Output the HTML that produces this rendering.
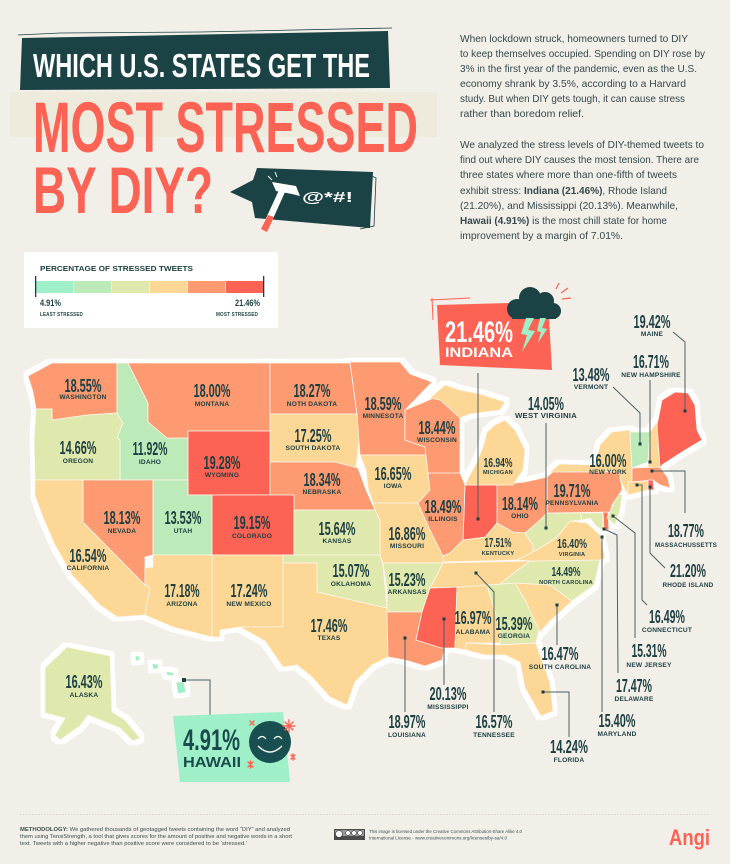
<!DOCTYPE html>
<html><head><meta charset="utf-8">
<style>
html,body{margin:0;padding:0;background:#f2eee8;}
svg{display:block}
.p{font-family:"Liberation Sans Narrow","Liberation Sans",sans-serif;font-weight:700;font-size:18px;fill:#1c3e41}
.ps{font-size:12.5px}
.n{font-family:"Liberation Sans",sans-serif;font-weight:700;font-size:6.6px;fill:#1c3e41;letter-spacing:.2px}
.nb{font-size:7.6px}
.t{font-family:"Liberation Sans",sans-serif;font-size:10.4px;fill:#34494b}
.ln{fill:none;stroke:#4a6163;stroke-width:1}
.m{font-family:"Liberation Sans",sans-serif;font-size:5.4px;fill:#3b4f51}
</style></head>
<body>
<svg width="730" height="864" viewBox="0 0 730 864" xmlns="http://www.w3.org/2000/svg" xmlns:xlink="http://www.w3.org/1999/xlink">
<defs>
<filter id="halo" x="-10%" y="-10%" width="120%" height="120%">
<feMorphology in="SourceAlpha" operator="dilate" radius="4" result="d"/>
<feFlood flood-color="#ffffff"/>
<feComposite in2="d" operator="in"/>
</filter>
</defs>
<rect width="730" height="864" fill="#f2eee8"/>

<!-- TITLE -->
<polygon points="22,38 388,31 390,88 20,90" fill="#1b4245"/>
<polyline points="18,35 60,33 200,32 392,28" fill="none" stroke="#1b4245" stroke-width="0.8"/>
<rect x="10" y="92" width="427" height="45" fill="#efebdc"/>
<text x="33" y="77" font-family="'Liberation Sans Narrow','Liberation Sans',sans-serif" font-weight="700" font-size="33" fill="#ffffff" textLength="337" lengthAdjust="spacingAndGlyphs">WHICH U.S. STATES GET THE</text>
<text x="33" y="152" font-family="'Liberation Sans Narrow','Liberation Sans',sans-serif" font-weight="700" font-size="71" fill="#fd6354" textLength="385" lengthAdjust="spacingAndGlyphs">MOST STRESSED</text>
<text x="33" y="213" font-family="'Liberation Sans Narrow','Liberation Sans',sans-serif" font-weight="700" font-size="66" fill="#fd6354" textLength="180" lengthAdjust="spacingAndGlyphs">BY DIY?</text>
<!-- speech bubble -->
<polygon points="230,192 253,180 257,168 373,172 370,228 255,218 252,202" fill="#1b4245"/>
<polyline points="372,176 376,178 374,226 360,229" fill="none" stroke="#1b4245" stroke-width="0.8"/>
<polygon points="279,190 285,192 268,230 262,227" fill="#ffffff"/>
<polygon points="268,215 274,217 267,232 261,229" fill="#fd6354"/>
<polygon points="272,182 296,186 300,196 292,194 276,191" fill="#ffffff"/>
<line x1="268" y1="176" x2="272" y2="180" stroke="#fff" stroke-width="1"/>
<line x1="275" y1="172" x2="277" y2="177" stroke="#fff" stroke-width="1"/>
<text x="302" y="202" font-family="'Liberation Sans',sans-serif" font-weight="700" font-size="15" fill="#ffffff" textLength="51" lengthAdjust="spacingAndGlyphs">@*#!</text>

<!-- PARAGRAPHS -->
<text class="t" x="460" y="42" textLength="228" lengthAdjust="spacingAndGlyphs">When lockdown struck, homeowners turned to DIY</text>
<text class="t" x="460" y="57" textLength="245" lengthAdjust="spacingAndGlyphs">to keep themselves occupied. Spending on DIY rose by</text>
<text class="t" x="460" y="72" textLength="237" lengthAdjust="spacingAndGlyphs">3% in the first year of the pandemic, even as the U.S.</text>
<text class="t" x="460" y="87" textLength="226" lengthAdjust="spacingAndGlyphs">economy shrank by 3.5%, according to a Harvard</text>
<text class="t" x="460" y="102" textLength="225" lengthAdjust="spacingAndGlyphs">study. But when DIY gets tough, it can cause stress</text>
<text class="t" x="460" y="117" textLength="124" lengthAdjust="spacingAndGlyphs">rather than boredom relief.</text>
<text class="t" x="460" y="148" textLength="244" lengthAdjust="spacingAndGlyphs">We analyzed the stress levels of DIY-themed tweets to</text>
<text class="t" x="460" y="163" textLength="239" lengthAdjust="spacingAndGlyphs">find out where DIY causes the most tension. There are</text>
<text class="t" x="460" y="178" textLength="217" lengthAdjust="spacingAndGlyphs">three states where more than one-fifth of tweets</text>
<text class="t" x="460" y="194" textLength="207" lengthAdjust="spacingAndGlyphs">exhibit stress: <tspan font-weight="700">Indiana (21.46%)</tspan>, Rhode Island</text>
<text class="t" x="460" y="209" textLength="218" lengthAdjust="spacingAndGlyphs">(21.20%), and Mississippi (20.13%). Meanwhile,</text>
<text class="t" x="460" y="224" textLength="207" lengthAdjust="spacingAndGlyphs"><tspan font-weight="700">Hawaii (4.91%)</tspan> is the most chill state for home</text>
<text class="t" x="460" y="239" textLength="163" lengthAdjust="spacingAndGlyphs">improvement by a margin of 7.01%.</text>

<!-- LEGEND -->
<rect x="24" y="252" width="254" height="76" fill="#ffffff"/>
<text x="40" y="271" font-family="'Liberation Sans',sans-serif" font-weight="700" font-size="7.6" fill="#1c3e41" textLength="153" lengthAdjust="spacingAndGlyphs">PERCENTAGE OF STRESSED TWEETS</text>
<rect x="36" y="281" width="37.5" height="12" fill="#9ff0c9"/>
<rect x="74" y="281" width="37.5" height="12" fill="#bdeab9"/>
<rect x="112" y="281" width="37.5" height="12" fill="#dfe9ad"/>
<rect x="150" y="281" width="37.5" height="12" fill="#fdd796"/>
<rect x="188" y="281" width="37.5" height="12" fill="#fd9a71"/>
<rect x="226" y="281" width="37" height="12" fill="#fd6354"/>
<rect x="35" y="276" width="1.3" height="21" fill="#1c3e41"/>
<rect x="263" y="276" width="1.3" height="21" fill="#1c3e41"/>
<text x="40" y="306" class="p" style="font-size:9px" textLength="21" lengthAdjust="spacingAndGlyphs">4.91%</text>
<text x="40" y="316" class="n" style="font-size:5.4px" textLength="43" lengthAdjust="spacingAndGlyphs">LEAST STRESSED</text>
<text x="260" y="306" class="p" style="font-size:9px" text-anchor="end" textLength="25" lengthAdjust="spacingAndGlyphs">21.46%</text>
<text x="258" y="316" class="n" style="font-size:5.4px" text-anchor="end" textLength="42" lengthAdjust="spacingAndGlyphs">MOST STRESSED</text>

<!-- MAP HALO -->
<use href="#map" xlink:href="#map" filter="url(#halo)"/>

<!-- MAP -->
<g id="map" stroke="#fff6ec" stroke-width="0.8" stroke-linejoin="round">
<polygon fill="#fd9a71" points="28,376 52,363 117,363 117,413 87,415 52,420 52,409 36,409 33,392"/>
<polygon fill="#bdeab9" points="117,363 128,363 148,403 148,422 167,438 188,438 188,480 120,480 120,440 117,438 123,423 117,413"/>
<polygon fill="#fd9a71" points="128,363 270,363 270,431 188,431 188,438 167,438 148,422 148,403"/>
<polygon fill="#fd9a71" points="270,363 350,363 357,414 270,414"/>
<polygon fill="#fdd796" points="270,414 357,414 359,440 356,468 335,462 270,462"/>
<polygon fill="#fd6354" points="188,431 270,431 270,495 188,495"/>
<polygon fill="#fd9a71" points="270,462 335,462 358,468 366,490 375,510 294,510 294,495 270,495"/>
<polygon fill="#dfe9ad" points="36,409 52,409 52,420 87,415 117,413 123,423 117,438 120,440 120,480 35,480 34,440"/>
<polygon fill="#fdd796" points="35,480 83,480 83,522 145,585 150,587 145,615 117,617 100,605 72,575 55,545 42,515 35,495"/>
<polygon fill="#fd9a71" points="83,480 153,480 153,555 145,557 145,585 83,522"/>
<polygon fill="#bdeab9" points="153,480 188,480 188,495 212,495 212,555 153,555"/>
<polygon fill="#fd6354" points="212,495 294,495 294,555 212,555"/>
<polygon fill="#fdd796" points="153,555 212,555 212,637 173,627 145,615 150,587 145,585 145,568 153,567"/>
<polygon fill="#fdd796" points="212,555 283,555 283,627 240,627 220,630 220,637 212,637"/>
<polygon fill="#dfe9ad" points="294,510 375,510 380,520 380,555 294,555"/>
<polygon fill="#dfe9ad" points="283,555 380,555 383,565 387,608 360,602 317,592 317,563 283,563"/>
<polygon fill="#fdd796" points="240,627 283,627 283,563 317,563 317,592 360,602 387,608 388,657 372,665 355,682 347,705 330,697 312,677 297,665 283,667 265,641"/>
<polygon fill="#fd9a71" points="350,362 400,362 410,374 432,382 405,410 405,440 425,447 428,455 360,455 357,414"/>
<polygon fill="#fdd796" points="360,455 428,455 431,475 430,490 418,503 373,503 368,488 366,470"/>
<polygon fill="#fdd796" points="373,503 418,503 430,530 448,555 443,563 383,563 380,555 380,520 375,510"/>
<polygon fill="#dfe9ad" points="383,563 443,563 430,588 422,612 387,612 387,590"/>
<polygon fill="#fd9a71" points="387,612 422,612 416,640 445,646 442,660 425,666 405,660 388,657"/>
<polygon fill="#fd6354" points="430,588 457,587 455,648 441,648 416,640 422,612"/>
<polygon fill="#fdd796" points="457,587 487,585 500,628 500,643 466,643 466,650 455,648"/>
<polygon fill="#dfe9ad" points="487,585 515,583 545,610 540,625 536,643 500,645 500,628"/>
<polygon fill="#fdd796" points="466,650 466,643 500,645 536,643 540,655 550,683 553,711 541,716 525,688 520,662 505,655 485,655"/>
<polygon fill="#fdd796" points="515,583 550,585 572,601 550,621 540,632 525,600"/>
<polygon fill="#dfe9ad" points="500,584 515,572 530,561 600,560 594,585 572,601 550,585 515,583"/>
<polygon fill="#fdd796" points="443,563 530,561 515,572 500,584 487,585 457,587 430,588 437,575"/>
<polygon fill="#fdd796" points="443,562 443,556 450,553 463,540 485,537 497,523 513,532 525,533 533,545 533,552 517,560"/>
<polygon fill="#fdd796" points="517,560 533,552 545,545 557,537 570,521 587,523 600,535 605,558 600,560 530,561"/>
<polygon fill="#dfe9ad" points="525,533 540,520 547,513 575,513 585,505 590,512 582,520 570,521 557,537 545,545 533,552 533,545"/>
<polygon fill="#dfe9ad" points="580,513 603,513 603,530 596,526 590,518 582,520"/>
<polygon fill="#fd7a5f" points="603,512 608,512 609,530 604,530"/>
<polygon fill="#dfe9ad" points="612,492 622,495 620,510 615,525 607,518 613,505"/>
<polygon fill="#fd9a71" points="547,477 555,470 620,472 622,490 612,505 610,512 547,513"/>
<polygon fill="#fd9a71" points="497,485 525,482 547,477 547,513 540,520 525,533 513,532 497,523"/>
<polygon fill="#fd6354" points="465,485 497,485 497,523 485,537 463,540"/>
<polygon fill="#fd9a71" points="428,473 460,473 465,485 463,540 450,553 443,556 430,530 418,503 430,490"/>
<polygon fill="#fd9a71" points="405,410 422,403 440,395 460,418 460,473 428,473 425,447 405,440"/>
<polygon fill="#fdd796" points="465,485 513,485 523,470 525,450 515,430 505,420 495,425 487,432 483,447 477,462 470,475"/>
<polygon fill="#fdd796" points="430,398 445,385 460,390 480,394 505,402 500,410 470,414 460,418 440,400"/>
<polygon fill="#fdd796" points="550,472 560,464 595,465 600,445 612,432 630,430 632,468 632,482 628,495 620,480 620,472"/>
<polygon fill="#bdeab9" points="630,432 650,432 648,462 632,468"/>
<polygon fill="#fdd796" points="650,432 657,422 660,468 648,468 648,462"/>
<polygon fill="#fd6354" points="657,425 662,400 675,392 688,393 695,405 697,430 702,440 682,452 662,465 660,468"/>
<polygon fill="#fd9a71" points="632,468 660,467 668,478 670,488 660,485 653,480 632,482"/>
<polygon fill="#fd6354" points="648,480 653,480 654,490 648,490"/>
<polygon fill="#fdd796" points="628,482 648,481 648,490 628,495"/>
<polygon fill="#dfe9ad" points="45,668 67,647 110,656 112,712 125,720 140,738 133,741 120,728 88,715 80,726 60,740 55,735 65,718 45,713 45,690"/>
<polygon fill="#9ff0c9" points="135,656 139,656 140,660 136,661"/>
<polygon fill="#9ff0c9" points="152,664 158,664 158,669 153,669"/>
<polygon fill="#9ff0c9" points="166,671 174,673 173,676 167,675"/>
<polygon fill="#9ff0c9" points="176,682 184,682 186,692 178,694"/>
</g>

<!-- CONNECTOR LINES -->
<g class="ln">
<polyline points="673,332 685,342 685,411"/>
<polyline points="650,380 650,462"/>
<polyline points="613,387 640,413 640,444"/>
<polyline points="546,423 546,528"/>
<polyline points="478,373 478,519"/>
<polyline points="652,471 685,471 685,513"/>
<polyline points="650,487 650,553 665,568"/>
<polyline points="637,485 642,485 642,600 647,605"/>
<polyline points="613,516 635,533 635,638"/>
<polyline points="604,529 617,535 618,673"/>
<polyline points="602,537 602,712"/>
<polyline points="557,605 557,645"/>
<polyline points="543,692 569,692 569,737"/>
<polyline points="476,573 494,592 494,712"/>
<polyline points="444,619 444,685"/>
<polyline points="405,638 405,712"/>
<polyline points="184,680 210,680 210,716"/>
</g>
<g fill="#1c3e41">
<rect x="683.5" y="409.5" width="3" height="3"/>
<rect x="648.5" y="460.5" width="3" height="3"/>
<rect x="638.5" y="442.5" width="3" height="3"/>
<rect x="544.5" y="526.5" width="3" height="3"/>
<rect x="476.5" y="517.5" width="3" height="3"/>
<rect x="650.5" y="469.5" width="3" height="3"/>
<rect x="648.5" y="485.5" width="3" height="3"/>
<rect x="635.5" y="483.5" width="3" height="3"/>
<rect x="611.5" y="514.5" width="3" height="3"/>
<rect x="602.5" y="527.5" width="3" height="3"/>
<rect x="600.5" y="535.5" width="3" height="3"/>
<rect x="555.5" y="603.5" width="3" height="3"/>
<rect x="541.5" y="690.5" width="3" height="3"/>
<rect x="474.5" y="571.5" width="3" height="3"/>
<rect x="442.5" y="617.5" width="3" height="3"/>
<rect x="403.5" y="636.5" width="3" height="3"/>
<rect x="182" y="678" width="4" height="4"/>
</g>

<!-- STATE LABELS -->
<g text-anchor="middle">
<text class="p" x="83" y="392" textLength="37" lengthAdjust="spacingAndGlyphs">18.55%</text><text class="n" x="83" y="399">WASHINGTON</text>
<text class="p" x="212" y="397" textLength="37" lengthAdjust="spacingAndGlyphs">18.00%</text><text class="n" x="212" y="406">MONTANA</text>
<text class="p" x="312" y="397" textLength="37" lengthAdjust="spacingAndGlyphs">18.27%</text><text class="n" x="312" y="406">NOTH DAKOTA</text>
<text class="p" x="313" y="442" textLength="37" lengthAdjust="spacingAndGlyphs">17.25%</text><text class="n" x="313" y="450">SOUTH DAKOTA</text>
<text class="p" x="78" y="454" textLength="37" lengthAdjust="spacingAndGlyphs">14.66%</text><text class="n" x="78" y="463">OREGON</text>
<text class="p" x="150" y="455" textLength="35" lengthAdjust="spacingAndGlyphs">11.92%</text><text class="n" x="150" y="464">IDAHO</text>
<text class="p" x="222" y="469" textLength="37" lengthAdjust="spacingAndGlyphs">19.28%</text><text class="n" x="222" y="477">WYOMING</text>
<text class="p" x="322" y="486" textLength="37" lengthAdjust="spacingAndGlyphs">18.34%</text><text class="n" x="322" y="494">NEBRASKA</text>
<text class="p" x="122" y="524" textLength="37" lengthAdjust="spacingAndGlyphs">18.13%</text><text class="n" x="122" y="533">NEVADA</text>
<text class="p" x="183" y="524" textLength="37" lengthAdjust="spacingAndGlyphs">13.53%</text><text class="n" x="183" y="533">UTAH</text>
<text class="p" x="252" y="529" textLength="37" lengthAdjust="spacingAndGlyphs">19.15%</text><text class="n" x="252" y="538">COLORADO</text>
<text class="p" x="337" y="535" textLength="37" lengthAdjust="spacingAndGlyphs">15.64%</text><text class="n" x="337" y="543">KANSAS</text>
<text class="p" x="88" y="562" textLength="37" lengthAdjust="spacingAndGlyphs">16.54%</text><text class="n" x="88" y="570">CALIFORNIA</text>
<text class="p" x="182" y="597" textLength="35" lengthAdjust="spacingAndGlyphs">17.18%</text><text class="n" x="182" y="606">ARIZONA</text>
<text class="p" x="249" y="597" textLength="37" lengthAdjust="spacingAndGlyphs">17.24%</text><text class="n" x="249" y="606">NEW MEXICO</text>
<text class="p" x="351" y="577" textLength="37" lengthAdjust="spacingAndGlyphs">15.07%</text><text class="n" x="351" y="586">OKLAHOMA</text>
<text class="p" x="329" y="632" textLength="37" lengthAdjust="spacingAndGlyphs">17.46%</text><text class="n" x="329" y="640">TEXAS</text>
<text class="p" x="84" y="688" textLength="37" lengthAdjust="spacingAndGlyphs">16.43%</text><text class="n" x="84" y="697">ALASKA</text>
<text class="p" x="383" y="410" textLength="37" lengthAdjust="spacingAndGlyphs">18.59%</text><text class="n" x="383" y="418">MINNESOTA</text>
<text class="p" x="437" y="434" textLength="37" lengthAdjust="spacingAndGlyphs">18.44%</text><text class="n" x="437" y="442">WISCONSIN</text>
<text class="p ps" x="498" y="467" textLength="29" lengthAdjust="spacingAndGlyphs">16.94%</text><text class="n" x="498" y="474" style="font-size:5.6px">MICHIGAN</text>
<text class="p" x="393" y="480" textLength="37" lengthAdjust="spacingAndGlyphs">16.65%</text><text class="n" x="393" y="488">IOWA</text>
<text class="p" x="443" y="513" textLength="37" lengthAdjust="spacingAndGlyphs">18.49%</text><text class="n" x="443" y="521">ILLINOIS</text>
<text class="p" x="520" y="510" textLength="36" lengthAdjust="spacingAndGlyphs">18.14%</text><text class="n" x="520" y="518">OHIO</text>
<text class="p" x="407" y="540" textLength="37" lengthAdjust="spacingAndGlyphs">16.86%</text><text class="n" x="407" y="548">MISSOURI</text>
<text class="p ps" x="498" y="547" textLength="27" lengthAdjust="spacingAndGlyphs">17.51%</text><text class="n" x="498" y="555" style="font-size:5.6px">KENTUCKY</text>
<text class="p ps" x="572" y="548" textLength="30" lengthAdjust="spacingAndGlyphs">16.40%</text><text class="n" x="572" y="556" style="font-size:5.6px">VIRGINIA</text>
<text class="p ps" x="566" y="576" textLength="29" lengthAdjust="spacingAndGlyphs">14.49%</text><text class="n" x="566" y="584" style="font-size:5.6px">NORTH CAROLINA</text>
<text class="p" x="407" y="586" textLength="37" lengthAdjust="spacingAndGlyphs">15.23%</text><text class="n" x="407" y="594">ARKANSAS</text>
<text class="p" x="473" y="624" textLength="37" lengthAdjust="spacingAndGlyphs">16.97%</text><text class="n" x="473" y="634">ALABAMA</text>
<text class="p" x="514" y="630" textLength="37" lengthAdjust="spacingAndGlyphs">15.39%</text><text class="n" x="514" y="638">GEORGIA</text>
<text class="p" x="608" y="467" textLength="37" lengthAdjust="spacingAndGlyphs">16.00%</text><text class="n" x="608" y="474">NEW YORK</text>
<text class="p" x="572" y="497" textLength="37" lengthAdjust="spacingAndGlyphs">19.71%</text><text class="n" x="572" y="505">PENNSYLVANIA</text>
<text class="p" x="652" y="328" textLength="37" lengthAdjust="spacingAndGlyphs">19.42%</text><text class="n" x="652" y="336">MAINE</text>
<text class="p" x="651" y="368" textLength="36" lengthAdjust="spacingAndGlyphs">16.71%</text><text class="n" x="651" y="377">NEW HAMPSHIRE</text>
<text class="p" x="591" y="381" textLength="37" lengthAdjust="spacingAndGlyphs">13.48%</text><text class="n" x="591" y="389">VERMONT</text>
<text class="p" x="546" y="410" textLength="36" lengthAdjust="spacingAndGlyphs">14.05%</text><text class="n nb" x="546" y="418" textLength="62" lengthAdjust="spacingAndGlyphs">WEST VIRGINIA</text>
<text class="p" x="686" y="537" textLength="36" lengthAdjust="spacingAndGlyphs">18.77%</text><text class="n" x="686" y="547" textLength="62" lengthAdjust="spacingAndGlyphs">MASSACHUSSETTS</text>
<text class="p" x="688" y="577" textLength="36" lengthAdjust="spacingAndGlyphs">21.20%</text><text class="n" x="688" y="587" textLength="51" lengthAdjust="spacingAndGlyphs">RHODE ISLAND</text>
<text class="p" x="667" y="623" textLength="36" lengthAdjust="spacingAndGlyphs">16.49%</text><text class="n" x="667" y="632">CONNECTICUT</text>
<text class="p" x="649" y="657" textLength="35" lengthAdjust="spacingAndGlyphs">15.31%</text><text class="n" x="649" y="667">NEW JERSEY</text>
<text class="p" x="634" y="692" textLength="36" lengthAdjust="spacingAndGlyphs">17.47%</text><text class="n" x="634" y="701">DELAWARE</text>
<text class="p" x="617" y="727" textLength="37" lengthAdjust="spacingAndGlyphs">15.40%</text><text class="n" x="617" y="736">MARYLAND</text>
<text class="p" x="569" y="753" textLength="38" lengthAdjust="spacingAndGlyphs">14.24%</text><text class="n" x="569" y="762">FLORIDA</text>
<text class="p" x="560" y="660" textLength="37" lengthAdjust="spacingAndGlyphs">16.47%</text><text class="n" x="560" y="669">SOUTH CAROLINA</text>
<text class="p" x="494" y="728" textLength="37" lengthAdjust="spacingAndGlyphs">16.57%</text><text class="n" x="494" y="737">TENNESSEE</text>
<text class="p" x="448" y="700" textLength="37" lengthAdjust="spacingAndGlyphs">20.13%</text><text class="n" x="448" y="709">MISSISSIPPI</text>
<text class="p" x="407" y="728" textLength="37" lengthAdjust="spacingAndGlyphs">18.97%</text><text class="n" x="407" y="737">LOUISIANA</text>
</g>

<!-- INDIANA CALLOUT -->
<polyline points="432,298 433,320" fill="none" stroke="#fd6354" stroke-width="1"/>
<polyline points="430,300 470,298" fill="none" stroke="#fd6354" stroke-width="1"/>
<polygon points="437,305 548,302 552,370 440,365" fill="#fd6354"/>
<text x="445" y="342" font-family="'Liberation Sans Narrow','Liberation Sans',sans-serif" font-weight="700" font-size="30" fill="#ffffff" textLength="68" lengthAdjust="spacingAndGlyphs">21.46%</text>
<text x="445" y="357" font-family="'Liberation Sans',sans-serif" font-weight="700" font-size="14" fill="#ffffff" textLength="68" lengthAdjust="spacingAndGlyphs">INDIANA</text>
<g fill="#1b4245">
<circle cx="517" cy="309" r="10"/>
<circle cx="530" cy="298" r="11"/>
<circle cx="545" cy="301" r="9"/>
<circle cx="553" cy="311" r="8"/>
<rect x="512" y="305" width="44" height="14"/>
</g>
<polygon points="526,318 534,318 528,330 535,331 522,352 527,335 521,334" fill="#9ff0c9"/>
<polygon points="540,318 546,318 542,328 547,329 538,343 541,332 537,331" fill="#9ff0c9"/>
<g stroke="#fd6354" stroke-width="1.2">
<line x1="556" y1="289" x2="559" y2="283"/>
<line x1="561" y1="293" x2="568" y2="288"/>
<line x1="562" y1="299" x2="571" y2="298"/>
</g>

<!-- HAWAII CALLOUT -->
<polygon points="173,716 283,712 290,782 180,782" fill="#9ff0c9"/>
<text x="183" y="750" font-family="'Liberation Sans Narrow','Liberation Sans',sans-serif" font-weight="700" font-size="30" fill="#1a4a4c" textLength="57" lengthAdjust="spacingAndGlyphs">4.91%</text>
<text x="183" y="767" font-family="'Liberation Sans',sans-serif" font-weight="700" font-size="15" fill="#1a4a4c" textLength="58" lengthAdjust="spacingAndGlyphs">HAWAII</text>
<circle cx="270" cy="742" r="21" fill="#1a4f51"/>
<path d="M258,739 q4,-5 8,0 M274,739 q4,-5 8,0" fill="none" stroke="#ffffff" stroke-width="1.2"/>
<path d="M258,746 q12,12 24,0" fill="none" stroke="#ffffff" stroke-width="1.3"/>
<g stroke="#fd6354" stroke-width="1.4" stroke-linecap="round">
<path d="M285,722 l8,8 M293,722 l-8,8 M289,720 v12 M283,726 h12"/>
<path d="M250,721 l4,4 M254,721 l-4,4"/>
<path d="M291,755 l4,4 M295,755 l-4,4 M293,754 v6"/>
<path d="M248,762 l5,5 M253,762 l-5,5 M250.5,761 v7"/>
</g>

<!-- FOOTER -->
<line x1="20" y1="814.5" x2="710" y2="814.5" stroke="#ddd2c8" stroke-width="1" stroke-dasharray="1.5 1.5"/>
<text class="m" x="20" y="831" textLength="270" lengthAdjust="spacingAndGlyphs"><tspan font-weight="700">METHODOLOGY:</tspan> We gathered thousands of geotagged tweets containing the word “DIY” and analyzed</text>
<text class="m" x="20" y="838" textLength="272" lengthAdjust="spacingAndGlyphs">them using TensiStrength, a tool that gives scores for the amount of positive and negative words in a short</text>
<text class="m" x="20" y="845" textLength="227" lengthAdjust="spacingAndGlyphs">text. Tweets with a higher negative than positive score were considered to be ‘stressed.’</text>
<rect x="334" y="829" width="31" height="11" fill="#4a4a4a"/>
<rect x="335" y="830" width="29" height="6" fill="#9a9a9a"/>
<circle cx="339" cy="834" r="3.5" fill="#ffffff" stroke="#222" stroke-width="0.6"/>
<circle cx="348" cy="833" r="2.3" fill="#ffffff" stroke="#222" stroke-width="0.5"/>
<circle cx="354" cy="833" r="2.3" fill="#ffffff" stroke="#222" stroke-width="0.5"/>
<circle cx="360" cy="833" r="2.3" fill="#ffffff" stroke="#222" stroke-width="0.5"/>
<text class="m" x="369" y="833" style="font-size:4.6px" textLength="153" lengthAdjust="spacingAndGlyphs">This image is licensed under the Creative Commons Attribution-Share Alike 4.0</text>
<text class="m" x="369" y="839.5" style="font-size:4.6px" textLength="138" lengthAdjust="spacingAndGlyphs">International License - www.creativecommons.org/licenses/by-sa/4.0</text>
<text x="669" y="845" font-family="'Liberation Sans',sans-serif" font-weight="700" font-size="22" fill="#fd6354" textLength="41" lengthAdjust="spacingAndGlyphs">Angi</text>
</svg>
</body></html>
